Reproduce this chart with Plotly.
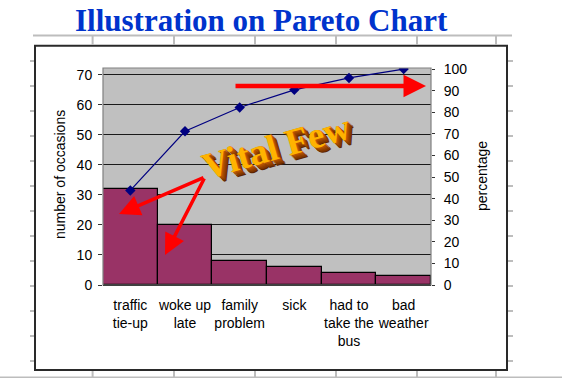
import plotly.graph_objects as go

# ---- data ----
categories = ["traffic<br>tie-up", "woke up<br>late", "family<br>problem", "sick",
              "had to<br>take the<br>bus", "bad<br>weather"]
occasions = [32, 20, 8, 6, 4, 3]
cum_percent = [43.8, 71.2, 82.2, 90.4, 95.9, 100.0]
left_ticks = [0, 10, 20, 30, 40, 50, 60, 70]
right_ticks = [0, 10, 20, 30, 40, 50, 60, 70, 80, 90, 100]

W, H = 562, 378
L, R, T, B = 103, 131, 68, 93
PW, PH = W - L - R, H - T - B


def px(x):
    return (x - L) / PW


def py(y):
    return (H - B - y) / PH


fig = go.Figure()
fig.add_trace(go.Bar(
    x=categories, y=occasions, marker=dict(color="#993366", line=dict(color="#000000", width=1.2)),
    yaxis="y", showlegend=False, hoverinfo="skip"))
fig.add_trace(go.Scatter(
    x=categories, y=cum_percent, yaxis="y2", mode="lines+markers",
    line=dict(color="#000080", width=1.2),
    marker=dict(symbol="diamond", size=8, color="#000080"),
    showlegend=False, hoverinfo="skip"))

shapes = []
# plot-area border
shapes.append(dict(type="rect", xref="paper", yref="paper", x0=0, x1=1, y0=0, y1=1,
                   line=dict(color="#808080", width=1.2), layer="above"))
# chart frame
shapes.append(dict(type="rect", xref="paper", yref="paper", x0=px(35), x1=px(507),
                   y0=py(370), y1=py(45.7), line=dict(color="#2a2a2a", width=2)))
# decorative gray ruler lines
grey = "#BDBDBD"
shapes.append(dict(type="line", xref="paper", yref="paper", x0=px(33), x1=px(512),
                   y0=py(35.5), y1=py(35.5), line=dict(color=grey, width=2)))
shapes.append(dict(type="line", xref="paper", yref="paper", x0=px(0), x1=px(562),
                   y0=py(377.5), y1=py(377.5), line=dict(color=grey, width=2)))
for xx in [92.6, 174, 255, 336, 417, 496]:
    shapes.append(dict(type="line", xref="paper", yref="paper", x0=px(xx), x1=px(xx),
                       y0=py(35.5), y1=py(45), line=dict(color=grey, width=2)))
    shapes.append(dict(type="line", xref="paper", yref="paper", x0=px(xx), x1=px(xx),
                       y0=py(371), y1=py(378), line=dict(color=grey, width=2)))
for k in range(13):
    yy = 61 + 25 * k
    shapes.append(dict(type="line", xref="paper", yref="paper", x0=px(30), x1=px(34),
                       y0=py(yy), y1=py(yy), line=dict(color=grey, width=2)))
    shapes.append(dict(type="line", xref="paper", yref="paper", x0=px(508), x1=px(513),
                       y0=py(yy), y1=py(yy), line=dict(color=grey, width=2)))

ann = []
# title
ann.append(dict(text="<b>Illustration on Pareto Chart</b>", xref="paper", yref="paper",
                x=px(261), y=py(21), xanchor="center", yanchor="middle", showarrow=False,
                font=dict(family="Liberation Serif", size=31, color="#0033CC")))
# axis titles
ann.append(dict(text="number of occasions", xref="paper", yref="paper", x=px(60), y=py(175),
                textangle=-90, showarrow=False, xanchor="center", yanchor="middle",
                font=dict(family="Liberation Sans", size=14, color="#000000")))
ann.append(dict(text="percentage", xref="paper", yref="paper", x=px(482), y=py(176),
                textangle=-90, showarrow=False, xanchor="center", yanchor="middle",
                font=dict(family="Liberation Sans", size=14, color="#000000")))
# "Vital Few" word-art (extrusion + face)
ext_cols = ["#5E2600", "#6E2E00", "#7E3600", "#8E3E00", "#A04800", "#B35400", "#C66000"]
for i, c in enumerate(ext_cols):
    k = len(ext_cols) - i
    ann.append(dict(text="<b>Vital Few</b>", xref="paper", yref="paper", x=px(276), y=py(146),
                    xshift=k * 0.9, yshift=-k * 0.8, textangle=-16, showarrow=False,
                    font=dict(family="Liberation Serif", size=37, color=c)))
ann.append(dict(text="<b>Vital Few</b>", xref="paper", yref="paper", x=px(276), y=py(146),
                textangle=-16, showarrow=False,
                font=dict(family="Liberation Serif", size=37, color="#FFB300")))
# red arrows
for hx, hy, tx, ty, w, s in [(119, 214, 205, 177, 3.5, 1.2), (165, 255, 205, 177, 3.5, 1.2),
                             (426, 86, 234, 86, 4.5, 1.0)]:
    ann.append(dict(text="", xref="paper", yref="paper", x=px(hx), y=py(hy),
                    ax=tx - hx, ay=ty - hy, axref="pixel", ayref="pixel",
                    showarrow=True, arrowhead=2, arrowsize=s, arrowwidth=w,
                    arrowcolor="#FF0000", standoff=0))

tick_font = dict(family="Liberation Sans", size=14, color="#000000")
fig.update_layout(
    width=W, height=H, margin=dict(l=L, r=R, t=T, b=B, autoexpand=False),
    paper_bgcolor="#FFFFFF", plot_bgcolor="#C0C0C0",
    bargap=0, showlegend=False,
    xaxis=dict(tickfont=tick_font, showgrid=False, zeroline=False, showline=True,
               linecolor="#000000", linewidth=1, ticks="", ticklabelstandoff=7),
    yaxis=dict(range=[0, 72.3], tickvals=left_ticks, tickfont=tick_font,
               showgrid=True, gridcolor="#1a1a1a", gridwidth=1, zeroline=False,
               ticks="outside", ticklen=4, tickcolor="#333333", showline=False,
               ticklabelstandoff=3),
    yaxis2=dict(range=[0, 100.5], tickvals=right_ticks, tickfont=tick_font, overlaying="y",
                side="right", showgrid=False, zeroline=False, ticks="outside", ticklen=3,
                tickcolor="#333333", showline=False, ticklabelstandoff=6),
    shapes=shapes, annotations=ann,
)

fig.write_html("out.html")
